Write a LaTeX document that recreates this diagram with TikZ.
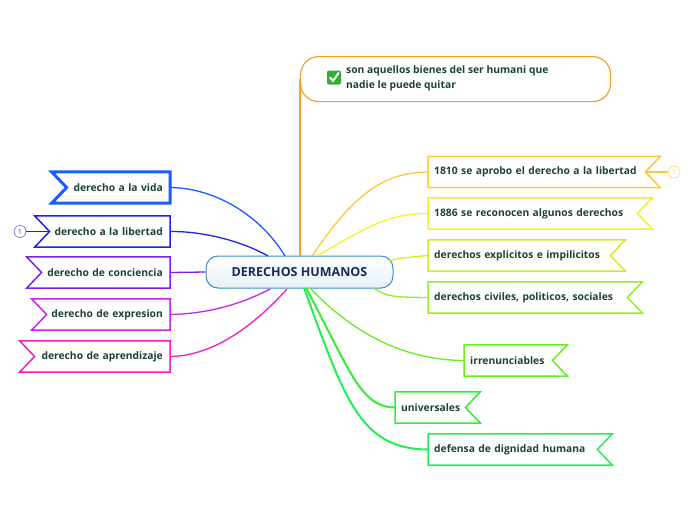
\documentclass[tikz,border=0pt]{standalone}
\usepackage{fontspec}
\setmainfont{Open Sans}
\definecolor{txt}{HTML}{1B4332}
\definecolor{navy}{HTML}{1B2A5A}
\definecolor{cor}{HTML}{F7A12A}
\definecolor{c1}{HTML}{FFC83A}
\definecolor{c2}{HTML}{F5F028}
\definecolor{c3}{HTML}{C8F02A}
\definecolor{c4}{HTML}{96EE2A}
\definecolor{c5}{HTML}{66EE22}
\definecolor{c6}{HTML}{33EE33}
\definecolor{c7}{HTML}{22EE55}
\definecolor{l1}{HTML}{1A5CFF}
\definecolor{l2}{HTML}{2222EE}
\definecolor{l3}{HTML}{7722EE}
\definecolor{l4}{HTML}{CC22EE}
\definecolor{l5}{HTML}{EE22BB}
\definecolor{cb}{HTML}{3B8BD0}
\begin{document}
\begin{tikzpicture}[x=1pt,y=-1pt,
  lbl/.style={font=\bfseries\fontsize{10.3}{15}\selectfont,text=txt},
  rf/.style={lbl,minimum height=31pt,text width=#1,inner xsep=6pt,align=left,anchor=west},
  lf/.style={lbl,minimum height=31pt,text width=#1,inner xsep=7pt,align=right,anchor=east},
  con/.style={line width=1.3pt}]
\useasboundingbox (0,0) rectangle (696,520);
% center
\node[draw=cb,line width=1pt,rounded corners=12pt,top color=white,bottom color=cb!12,
  minimum width=187pt,minimum height=32pt,font=\bfseries\fontsize{12.5}{13}\selectfont,text=navy] (c) at (299.5,272) {DERECHOS HUMANOS};
% top box
\node[draw=cor,line width=1.2pt,rounded corners=18pt,minimum width=310pt,minimum height=45pt,anchor=north west] (t) at (300,56) {};
\node[lbl,anchor=north west,align=left,inner sep=0pt] (tt) at (346,65) {son aquellos bienes del ser humani que\\nadie le puede quitar};
\node[fill=green!60!black!80,rounded corners=2pt,minimum size=14pt,inner sep=0pt] (chk) at (334,77.5) {};
\draw[white,line width=2pt,line cap=round,line join=round] ([xshift=-4pt]chk.center) -- ([xshift=-1pt,yshift=-3.5pt]chk.center) -- ([xshift=4.5pt,yshift=4.5pt]chk.center);
\draw[cor,line width=2pt] (t.west) -- (t.west |- c.north);
% right flags
\newcommand\rfl[2]{\draw[#2,line width=1.5pt] (#1.north west) -- (#1.north east) -- ([xshift=-15pt]#1.east) -- (#1.south east) -- (#1.south west) -- cycle;}
\newcommand\lfl[3]{\draw[#2,line width=#3] (#1.north east) -- (#1.north west) -- ([xshift=15pt]#1.west) -- (#1.south west) -- (#1.south east) -- cycle;}
\node[rf=220pt] (r1) at (428,172) {1810 se aprobo el derecho a la libertad}; \rfl{r1}{c1}
\node[rf=212pt] (r2) at (428,213.5) {1886 se reconocen algunos derechos}; \rfl{r2}{c2}
\node[rf=185pt] (r3) at (428,255.5) {derechos explicitos e impilicitos}; \rfl{r3}{c3}
\node[rf=202pt] (r4) at (428,297.5) {derechos civiles, politicos, sociales}; \rfl{r4}{c4}
\node[rf=91pt] (r5) at (464,360.5) {irrenunciables}; \rfl{r5}{c5}
\node[rf=73pt] (r6) at (395,407.5) {universales}; \rfl{r6}{c6}
\node[rf=172pt] (r7) at (428,449.5) {defensa de dignidad humana}; \rfl{r7}{c7}
% left flags
\node[lf=104pt] (v1) at (170,187.5) {derecho a la vida}; \lfl{v1}{l1}{3pt}
\node[lf=121pt] (v2) at (170,231.5) {derecho a la libertad}; \lfl{v2}{l2}{1.5pt}
\node[lf=129pt] (v3) at (170,272.5) {derecho de conciencia}; \lfl{v3}{l3}{1.5pt}
\node[lf=124pt] (v4) at (170,314.5) {derecho de expresion}; \lfl{v4}{l4}{1.5pt}
\node[lf=136pt] (v5) at (170,356.5) {derecho de aprendizaje}; \lfl{v5}{l5}{1.5pt}
% markers
\node[circle,draw=c1,text=c1,inner sep=0pt,minimum size=12pt,font=\fontsize{7}{7}\selectfont] (m1) at (674,172) {1};
\draw[c1,line width=1.3pt] ([xshift=-15pt]r1.east) -- (m1);
\node[circle,draw=l2,text=l2,inner sep=0pt,minimum size=12pt,font=\fontsize{7}{7}\selectfont] (m2) at (20,231.5) {1};
\draw[l2,line width=1.3pt] (m2) -- ([xshift=15pt]v2.west);
% connectors
\coordinate (ct) at (312,256); \coordinate (cbm) at (310,288);
\draw[con,c1] (ct) .. controls (350,200) and (380,172) .. (r1.west);
\draw[con,c2] ([xshift=5pt]ct) .. controls (370,225) and (390,213.5) .. (r2.west);
\draw[con,c3] (c.east |- 0,261) ++(-5,0) coordinate (k3) (k3) .. controls (400,258) .. (r3.west);
\draw[con,c4] ([xshift=-20pt]c.south east) .. controls (390,297) .. (r4.west);
\draw[con,c5] (cbm) .. controls (350,330) and (400,360) .. (r5.west);
\draw[con,c6,line width=2pt] ([xshift=-4pt]cbm) .. controls (350,370) and (360,407) .. (r6.west);
\draw[con,c7,line width=2pt] ([xshift=-6pt]cbm) .. controls (345,400) and (360,449) .. (r7.west);
\draw[con,l1] (285,256) .. controls (260,215) and (215,188) .. (v1.east);
\draw[con,l2] (268,256) .. controls (240,240) and (200,231) .. (v2.east);
\draw[con,l3] (c.west) -- (v3.east);
\draw[con,l4] (270,289) .. controls (240,305) and (205,314) .. (v4.east);
\draw[con,l5] (287,289) .. controls (250,330) and (210,356) .. (v5.east);
\end{tikzpicture}
\end{document}
